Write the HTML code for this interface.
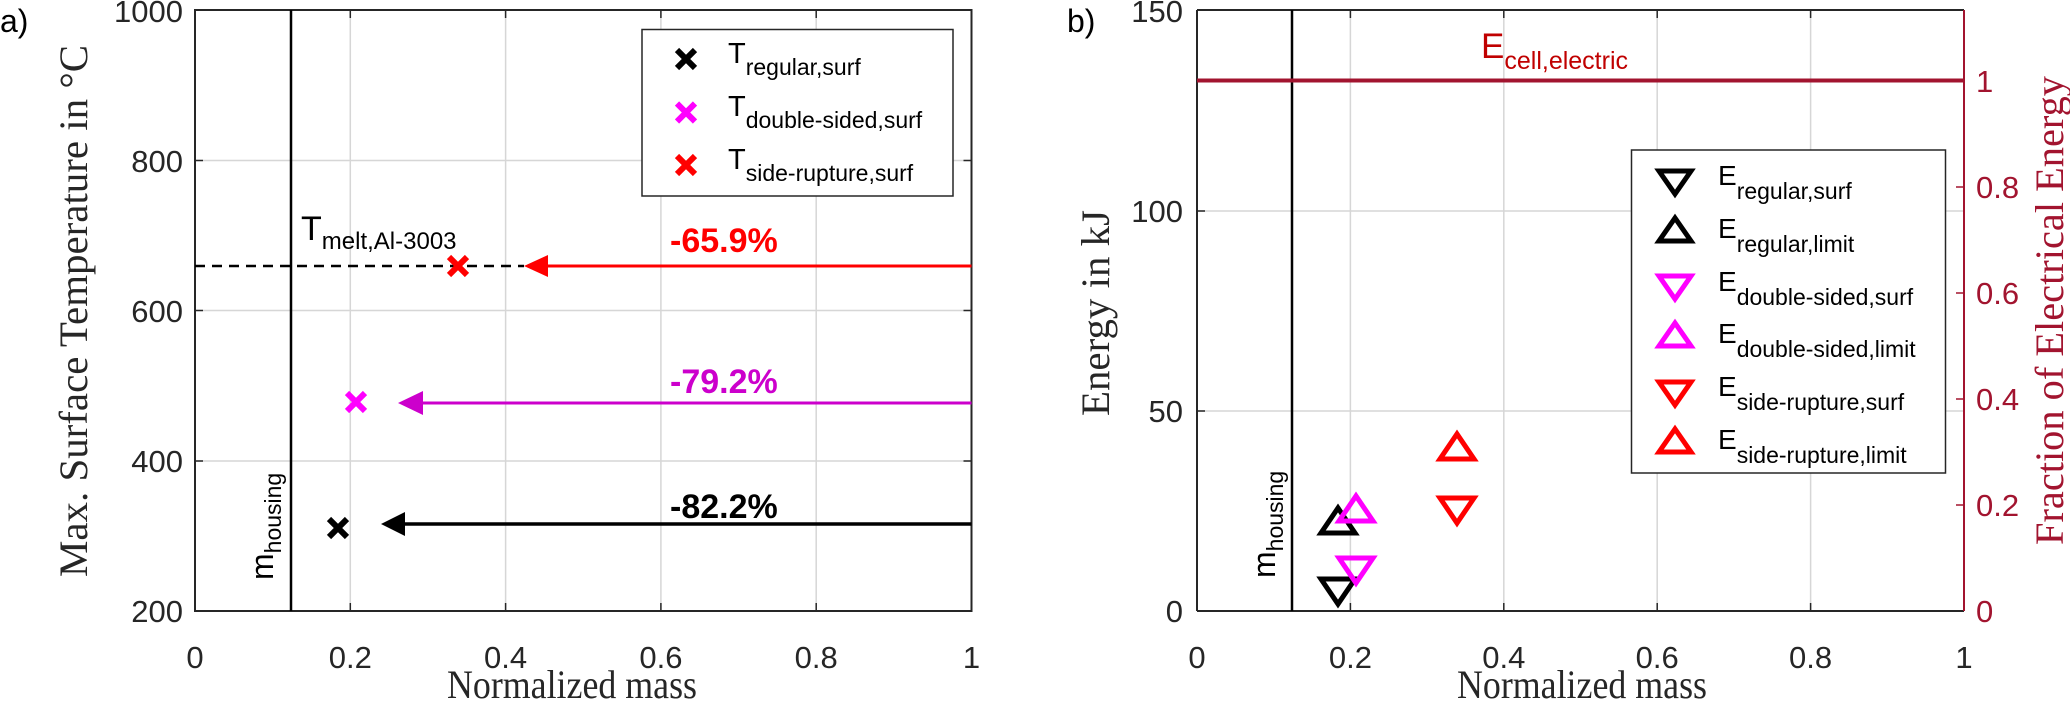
<!DOCTYPE html>
<html><head><meta charset="utf-8"><style>
html,body{margin:0;padding:0;background:#fff;}
svg{display:block;}
.t{font-family:"Liberation Sans",sans-serif;}
.s{font-family:"Liberation Serif",serif;}
</style></head><body>
<svg width="2070" height="701" viewBox="0 0 2070 701" xmlns="http://www.w3.org/2000/svg">
<!-- ===== Panel a ===== -->
<g stroke="#d6d6d6" stroke-width="1.5">
<line x1="350.3" y1="10" x2="350.3" y2="611"/><line x1="505.6" y1="10" x2="505.6" y2="611"/>
<line x1="660.9" y1="10" x2="660.9" y2="611"/><line x1="816.2" y1="10" x2="816.2" y2="611"/>
<line x1="195" y1="160.5" x2="971.5" y2="160.5"/><line x1="195" y1="310.5" x2="971.5" y2="310.5"/>
<line x1="195" y1="461" x2="971.5" y2="461"/>
</g>
<rect x="195" y="10" width="776.5" height="601" fill="none" stroke="#262626" stroke-width="2"/>
<g stroke="#262626" stroke-width="1.5">
<line x1="350.3" y1="611" x2="350.3" y2="603"/><line x1="505.6" y1="611" x2="505.6" y2="603"/><line x1="660.9" y1="611" x2="660.9" y2="603"/><line x1="816.2" y1="611" x2="816.2" y2="603"/>
<line x1="350.3" y1="10" x2="350.3" y2="18"/><line x1="505.6" y1="10" x2="505.6" y2="18"/><line x1="660.9" y1="10" x2="660.9" y2="18"/><line x1="816.2" y1="10" x2="816.2" y2="18"/>
<line x1="195" y1="160.5" x2="203" y2="160.5"/><line x1="195" y1="310.5" x2="203" y2="310.5"/><line x1="195" y1="461" x2="203" y2="461"/>
<line x1="971.5" y1="160.5" x2="963.5" y2="160.5"/><line x1="971.5" y1="310.5" x2="963.5" y2="310.5"/><line x1="971.5" y1="461" x2="963.5" y2="461"/>
</g>
<g class="t" font-size="31" fill="#262626" text-anchor="end">
<text x="183" y="22">1000</text><text x="183" y="172">800</text><text x="183" y="322">600</text><text x="183" y="472">400</text><text x="183" y="622">200</text>
</g>
<g class="t" font-size="31" fill="#262626" text-anchor="middle">
<text x="195" y="668">0</text><text x="350.3" y="668">0.2</text><text x="505.6" y="668">0.4</text><text x="660.9" y="668">0.6</text><text x="816.2" y="668">0.8</text><text x="971.5" y="668">1</text>
</g>
<text class="s" x="447" y="698" font-size="40" textLength="250" lengthAdjust="spacingAndGlyphs" fill="#262626">Normalized mass</text>
<text class="s" font-size="40" fill="#262626" textLength="532" lengthAdjust="spacingAndGlyphs" transform="translate(87,577) rotate(-90)">Max. Surface Temperature in °C</text>
<text class="t" x="0" y="32" font-size="32" fill="#000">a)</text>
<!-- m_housing -->
<line x1="291" y1="10" x2="291" y2="611" stroke="#000" stroke-width="2.5"/>
<text class="t" font-size="32" fill="#000" transform="translate(273,580) rotate(-90)">m<tspan font-size="23" dy="8">housing</tspan></text>
<!-- T melt -->
<line x1="195" y1="266" x2="524" y2="266" stroke="#000" stroke-width="2.5" stroke-dasharray="10,7"/>
<text class="t" x="301" y="240" font-size="34" fill="#000">T<tspan font-size="24" dy="9">melt,Al-3003</tspan></text>
<!-- arrows -->
<line x1="546" y1="266" x2="971.5" y2="266" stroke="#ff0000" stroke-width="3"/>
<polygon points="524,266 548,255 548,277" fill="#ff0000"/>
<line x1="420" y1="403" x2="971.5" y2="403" stroke="#cc00cc" stroke-width="3"/>
<polygon points="398,403 423,391 423,415" fill="#cc00cc"/>
<line x1="403" y1="524" x2="971.5" y2="524" stroke="#000" stroke-width="3.5"/>
<polygon points="381,524 405,512 405,536" fill="#000"/>
<g class="t" font-size="34" font-weight="bold">
<text x="670" y="252" fill="#ff0000">-65.9%</text>
<text x="670" y="393" fill="#cc00cc">-79.2%</text>
<text x="670" y="518" fill="#000">-82.2%</text>
</g>
<!-- x markers -->
<g stroke-width="6" stroke-linecap="butt">
<path d="M329,519 L347,537 M347,519 L329,537" stroke="#000"/>
<path d="M347,393 L365,411 M365,393 L347,411" stroke="#ff00ff"/>
<path d="M449,257 L467,275 M467,257 L449,275" stroke="#ff0000"/>
</g>
<!-- legend a -->
<rect x="642" y="29.5" width="311" height="166.5" fill="#fff" stroke="#262626" stroke-width="1.5"/>
<g stroke-width="6">
<path d="M677,50 L695,68 M695,50 L677,68" stroke="#000"/>
<path d="M677,103.5 L695,121.5 M695,103.5 L677,121.5" stroke="#ff00ff"/>
<path d="M677,156 L695,174 M695,156 L677,174" stroke="#ff0000"/>
</g>
<g class="t" font-size="29" fill="#000">
<text x="728" y="63">T<tspan font-size="23" dy="12">regular,surf</tspan></text>
<text x="728" y="116">T<tspan font-size="23" dy="12">double-sided,surf</tspan></text>
<text x="728" y="169">T<tspan font-size="23" dy="12">side-rupture,surf</tspan></text>
</g>

<!-- ===== Panel b ===== -->
<g stroke="#d6d6d6" stroke-width="1.5">
<line x1="1350.4" y1="10" x2="1350.4" y2="611"/><line x1="1503.8" y1="10" x2="1503.8" y2="611"/>
<line x1="1657.2" y1="10" x2="1657.2" y2="611"/><line x1="1810.6" y1="10" x2="1810.6" y2="611"/>
<line x1="1197" y1="211" x2="1964" y2="211"/><line x1="1197" y1="411" x2="1964" y2="411"/>
</g>
<line x1="1197" y1="10" x2="1964" y2="10" stroke="#262626" stroke-width="2"/>
<line x1="1197" y1="611" x2="1964" y2="611" stroke="#262626" stroke-width="2"/>
<line x1="1197" y1="10" x2="1197" y2="611" stroke="#262626" stroke-width="2"/>
<line x1="1964" y1="10" x2="1964" y2="611" stroke="#a2142f" stroke-width="2"/>
<g stroke="#262626" stroke-width="1.5">
<line x1="1350.4" y1="611" x2="1350.4" y2="603"/><line x1="1503.8" y1="611" x2="1503.8" y2="603"/><line x1="1657.2" y1="611" x2="1657.2" y2="603"/><line x1="1810.6" y1="611" x2="1810.6" y2="603"/>
<line x1="1350.4" y1="10" x2="1350.4" y2="18"/><line x1="1503.8" y1="10" x2="1503.8" y2="18"/><line x1="1657.2" y1="10" x2="1657.2" y2="18"/><line x1="1810.6" y1="10" x2="1810.6" y2="18"/>
<line x1="1197" y1="211" x2="1205" y2="211"/><line x1="1197" y1="411" x2="1205" y2="411"/>
</g>
<g stroke="#a2142f" stroke-width="1.5">
<line x1="1964" y1="505" x2="1956" y2="505"/><line x1="1964" y1="399" x2="1956" y2="399"/><line x1="1964" y1="293" x2="1956" y2="293"/><line x1="1964" y1="187" x2="1956" y2="187"/><line x1="1964" y1="80.5" x2="1956" y2="80.5"/>
</g>
<g class="t" font-size="31" fill="#262626" text-anchor="end">
<text x="1183" y="22">150</text><text x="1183" y="222">100</text><text x="1183" y="422">50</text><text x="1183" y="622">0</text>
</g>
<g class="t" font-size="31" fill="#262626" text-anchor="middle">
<text x="1197" y="668">0</text><text x="1350.4" y="668">0.2</text><text x="1503.8" y="668">0.4</text><text x="1657.2" y="668">0.6</text><text x="1810.6" y="668">0.8</text><text x="1964" y="668">1</text>
</g>
<g class="t" font-size="31" fill="#a2142f">
<text x="1976" y="622">0</text><text x="1976" y="516">0.2</text><text x="1976" y="410">0.4</text><text x="1976" y="304">0.6</text><text x="1976" y="198">0.8</text><text x="1976" y="92">1</text>
</g>
<text class="s" x="1457" y="698" font-size="40" textLength="250" lengthAdjust="spacingAndGlyphs" fill="#262626">Normalized mass</text>
<text class="s" font-size="40" fill="#262626" textLength="206" lengthAdjust="spacingAndGlyphs" transform="translate(1109,416) rotate(-90)">Energy in kJ</text>
<text class="s" font-size="40" fill="#a2142f" textLength="469" lengthAdjust="spacingAndGlyphs" transform="translate(2063,545) rotate(-90)">Fraction of Electrical Energy</text>
<text class="t" x="1067" y="32" font-size="32" fill="#000">b)</text>
<!-- m_housing b -->
<line x1="1292" y1="10" x2="1292" y2="611" stroke="#000" stroke-width="2.5"/>
<text class="t" font-size="32" fill="#000" transform="translate(1275,578) rotate(-90)">m<tspan font-size="23" dy="8">housing</tspan></text>
<!-- E cell -->
<line x1="1197" y1="80.5" x2="1964" y2="80.5" stroke="#a2142f" stroke-width="4"/>
<text class="t" x="1481" y="58" font-size="35" fill="#c00000">E<tspan font-size="25" dy="11">cell,electric</tspan></text>
<!-- triangles -->
<g fill="none" stroke-width="5">
<polygon points="1321,579 1355,579 1338,604" stroke="#000"/>
<polygon points="1321,533 1355,533 1338,508" stroke="#000"/>
<polygon points="1339,558 1373,558 1356,583" stroke="#ff00ff"/>
<polygon points="1339,521 1373,521 1356,496" stroke="#ff00ff"/>
<polygon points="1440,498 1474,498 1457,523" stroke="#ff0000"/>
<polygon points="1440,459 1474,459 1457,434" stroke="#ff0000"/>
</g>
<!-- legend b -->
<rect x="1631.5" y="150" width="314" height="323" fill="#fff" stroke="#262626" stroke-width="1.5"/>
<g fill="none" stroke-width="5">
<polygon points="1659,171 1691,171 1675,194" stroke="#000"/>
<polygon points="1659,241 1691,241 1675,218" stroke="#000"/>
<polygon points="1659,276 1691,276 1675,299" stroke="#ff00ff"/>
<polygon points="1659,346 1691,346 1675,323" stroke="#ff00ff"/>
<polygon points="1659,382 1691,382 1675,405" stroke="#ff0000"/>
<polygon points="1659,452 1691,452 1675,429" stroke="#ff0000"/>
</g>
<g class="t" font-size="28" fill="#000">
<text x="1718" y="185">E<tspan font-size="23" dy="14">regular,surf</tspan></text>
<text x="1718" y="238">E<tspan font-size="23" dy="14">regular,limit</tspan></text>
<text x="1718" y="291">E<tspan font-size="23" dy="14">double-sided,surf</tspan></text>
<text x="1718" y="343">E<tspan font-size="23" dy="14">double-sided,limit</tspan></text>
<text x="1718" y="396">E<tspan font-size="23" dy="14">side-rupture,surf</tspan></text>
<text x="1718" y="449">E<tspan font-size="23" dy="14">side-rupture,limit</tspan></text>
</g>
</svg>
</body></html>
